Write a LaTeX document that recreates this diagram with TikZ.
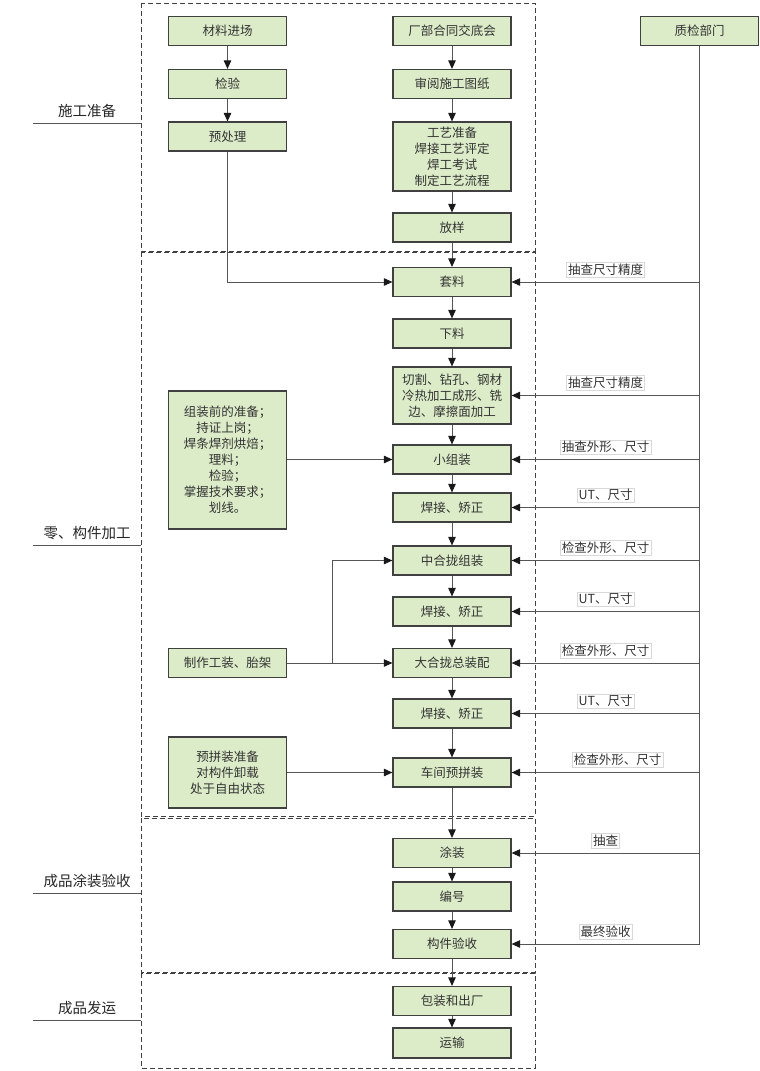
\documentclass[tikz,border=0pt]{standalone}
\usepackage{fontspec}
\setmainfont{Noto Sans CJK SC}
\usepackage{tikz}
\usetikzlibrary{calc,positioning,arrows.meta}
\definecolor{boxgreen}{RGB}{220,236,200}
\definecolor{linegray}{RGB}{85,85,85}

\begin{document}
\begin{tikzpicture}[x=1pt,y=-1pt,
	proc/.style={draw=black!75, line width=1.2pt, fill=boxgreen, minimum width=118pt, minimum height=29pt, inner sep=1pt, align=center, text=black!80, font=\fontsize{12.5}{16}\selectfont},
	flow/.style={draw=linegray, line width=0.9pt, -{Triangle[length=8.5pt,width=7.5pt,color=black!90]}},
	chk/.style={draw=black!15, line width=0.4pt, fill=white, inner sep=1.5pt, text=black!80, font=\fontsize{12.5}{14}\selectfont},
	stage/.style={inner sep=1pt, text=black!85, font=\fontsize{14.5}{16}\selectfont},
	zone/.style={draw=black!75, line width=0.9pt, dash pattern=on 5pt off 3pt}]
	\useasboundingbox (0,0) rectangle (760,1071);
	% stages
	\draw[zone] (141,3) rectangle (535,251);
	\draw[zone] (141,252) rectangle (535,816);
	\draw[zone] (141,818) rectangle (535,972);
	\draw[zone] (141,973) rectangle (535,1068);
	\foreach \y/\t in {123/施工准备, 545/零、构件加工, 893/成品涂装验收, 1020/成品发运}{
		\coordinate (s\y) at (33,\y);
		\draw[draw=linegray, line width=1pt] (s\y) -- ++(108,0);
		\node[stage, above=4pt] (st\y) at ($(s\y)+(54,0)$) {\t};
	}
	% left column
	\node[proc] (clj) at (227.5,31) {材料进场};
	\node[proc] (jy) at (227.5,84) {检验};
	\node[proc] (ycl) at (227.5,136.5) {预处理};
	\node[proc, minimum height=138pt] (zq) at (227.5,460) {组装前的准备；\\持证上岗；\\焊条焊剂烘焙；\\理料；\\检验；\\掌握技术要求；\\划线。};
	\node[proc] (gz) at (227.5,663) {制作工装、胎架};
	\node[proc, minimum height=71pt] (ypz) at (227.5,772.5) {预拼装准备\\对构件卸载\\处于自由状态};
	% main column
	\node[proc] (jdh) at (452,31) {厂部合同交底会};
	\node[proc] (sy) at (452,84) {审阅施工图纸};
	\node[proc, minimum height=69pt] (gy) at (452,156.5) {工艺准备\\焊接工艺评定\\焊工考试\\制定工艺流程};
	\node[proc] (fy) at (452,227.5) {放样};
	\node[proc] (tl) at (452,282) {套料};
	\node[proc] (xl) at (452,333.5) {下料};
	\node[proc, minimum height=57pt] (qg) at (452,395.5) {切割、钻孔、钢材\\冷热加工成形、铣\\边、摩擦面加工};
	\node[proc] (xzz) at (452,459.5) {小组装};
	\node[proc] (hj1) at (452,507.5) {焊接、矫正};
	\node[proc] (zhl) at (452,560.5) {中合拢组装};
	\node[proc] (hj2) at (452,611.5) {焊接、矫正};
	\node[proc] (dhl) at (452,663) {大合拢总装配};
	\node[proc] (hj3) at (452,713.5) {焊接、矫正};
	\node[proc] (cj) at (452,772.5) {车间预拼装};
	\node[proc] (tz) at (452,853) {涂装};
	\node[proc] (bh) at (452,896.5) {编号};
	\node[proc] (ys) at (452,944) {构件验收};
	\node[proc] (bz) at (452,1001) {包装和出厂};
	\node[proc, minimum height=30pt] (yx) at (452,1043) {运输};
	% quality
	\node[proc] (zj) at (699.5,31) {质检部门};
	% flow
	\foreach \a/\b in {clj/jy, jy/ycl, jdh/sy, sy/gy, gy/fy, fy/tl, tl/xl, xl/qg, qg/xzz, xzz/hj1, hj1/zhl, zhl/hj2, hj2/dhl, dhl/hj3, hj3/cj, cj/tz, tz/bh, bh/ys, ys/bz, bz/yx}
		\draw[flow] (\a) -- (\b);
	\draw[flow] (ycl) |- (tl);
	\draw[flow] (zq.east |- xzz) -- (xzz);
	\draw[flow] (gz) -- (dhl);
	\coordinate (fork) at ($(gz.east)!0.43!(dhl.west)$);
	\draw[flow] (fork) |- (zhl);
	\draw[flow] (ypz) -- (cj);
	% checks
	\draw[flow] (zj) |- (ys);
	\foreach \n in {tl, qg, xzz, hj1, zhl, hj2, dhl, hj3, cj, tz}
		\draw[flow] (zj |- \n) -- (\n.east);
	\foreach \n/\t/\dx in {tl/抽查尺寸精度/0, qg/抽查尺寸精度/0, xzz/抽查外形、尺寸/0, hj1/UT、尺寸/0, zhl/检查外形、尺寸/0, hj2/UT、尺寸/0, dhl/检查外形、尺寸/0, hj3/UT、尺寸/0, cj/检查外形、尺寸/12, tz/抽查/0, ys/最终验收/0}
		\node[chk, above=5pt, xshift=\dx pt] (c\n) at ($(\n.east)!0.5!(zj |- \n)$) {\t};
\end{tikzpicture}
\end{document}
